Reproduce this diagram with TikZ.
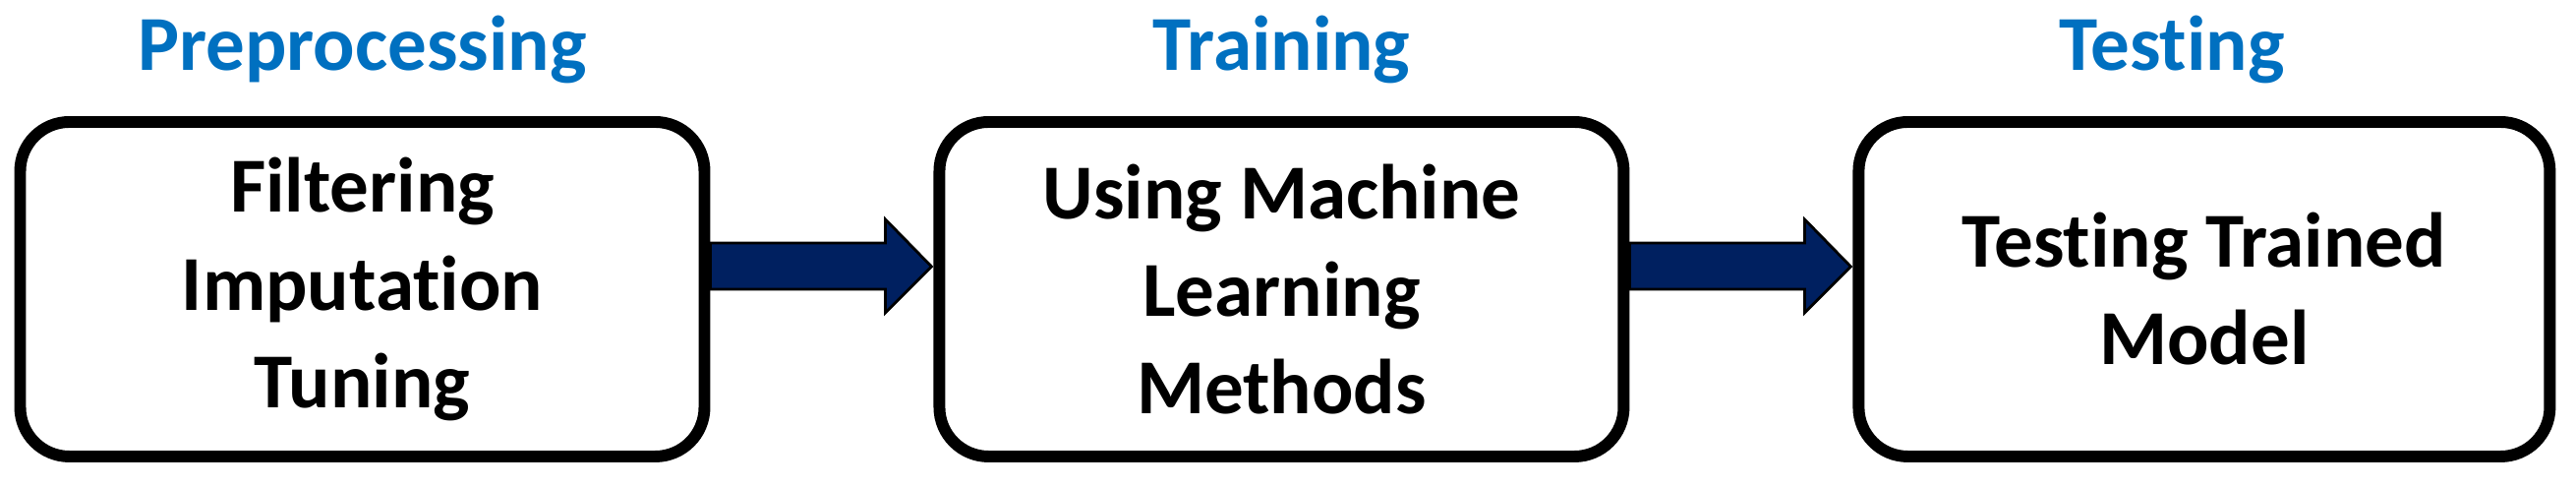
\documentclass[tikz,border=0pt]{standalone}
\usepackage{fontspec}
\setmainfont{Carlito}[Ligatures=NoCommon]
\usetikzlibrary{positioning,calc}
\definecolor{phaseblue}{HTML}{0070C0}
\definecolor{navyfill}{HTML}{002060}
\tikzset{
  stage/.style={draw,line width=3.4pt,rounded corners=0.5cm,minimum width=6.96cm,minimum height=3.4cm,align=center,inner sep=0pt,font=\bfseries\fontsize{22.5}{28.2}\selectfont},
  phase/.style={text=phaseblue,font=\bfseries\fontsize{22.5}{28.2}\selectfont},
  flow/.style={fill=navyfill,draw=black,line width=0.8pt,line join=miter}
}
\begin{document}
\begin{tikzpicture}
\useasboundingbox (0,0) rectangle (26.2,4.95);
%boxes
\node[stage] (pre) at (3.685,2.01) {Filtering\\Imputation\\Tuning};
\node[stage,right=2.27cm of pre] (train) {Using Machine\\Learning\\Methods};
\node[stage,right=2.27cm of train,minimum width=7.03cm] (test) {Testing Trained\\Model};
%
\node[phase,above=0.47cm of pre.north,anchor=base] (preT) {Preprocessing};
\node[phase,above=0.47cm of train.north,anchor=base] (trainT) {Training};
\node[phase,above=0.47cm of test.north,anchor=base,xshift=-0.33cm] (testT) {Testing};
%arrows
\filldraw[flow] ($(pre.east)+(0,0.47)$)--($(train.west)+(-0.49,0.47)$)--($(train.west)+(-0.49,0.71)$)
  --($(train.west)+(-0.02,0.23)$)--($(train.west)+(-0.49,-0.24)$)--($(train.west)+(-0.49,0)$)--(pre.east)--cycle;
\filldraw[flow] ($(train.east)+(0,0.47)$)--($(test.west)+(-0.49,0.47)$)--($(test.west)+(-0.49,0.71)$)
  --($(test.west)+(-0.02,0.23)$)--($(test.west)+(-0.49,-0.24)$)--($(test.west)+(-0.49,0)$)--(train.east)--cycle;
\end{tikzpicture}
\end{document}
